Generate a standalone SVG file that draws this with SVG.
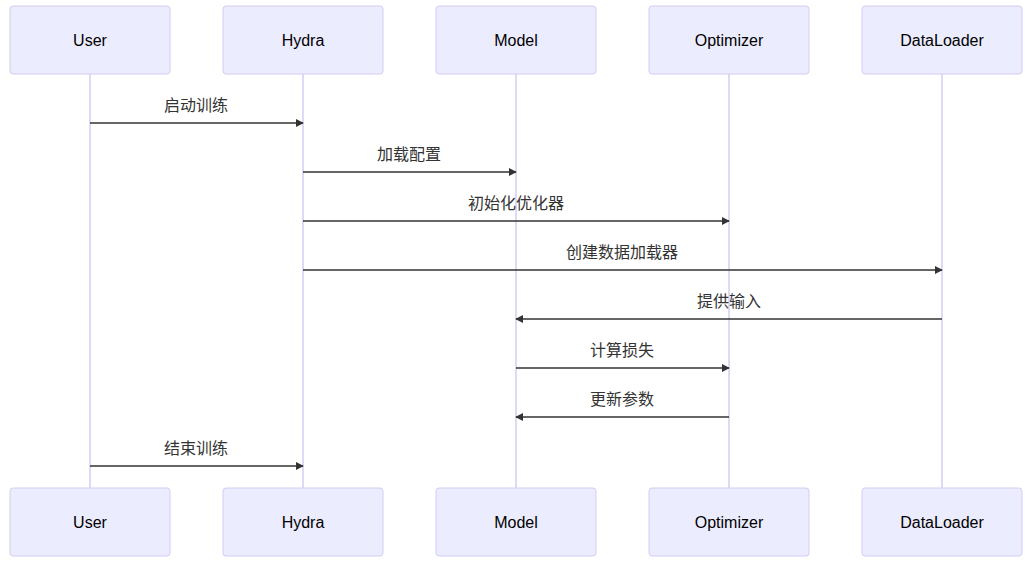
<svg xmlns="http://www.w3.org/2000/svg" width="1026" height="569" viewBox="0 0 1026 569">
<style>
.a{fill:#ECECFF;stroke:#D4CCF2;stroke-width:1}
.at{font-family:"Liberation Sans","Noto Sans CJK SC",sans-serif;font-size:16px;fill:#000;text-anchor:middle;dominant-baseline:central}
.ll{stroke:#D4CCF2;stroke-width:1.5}
.m{stroke:#333;stroke-width:1.5;marker-end:url(#ah)}
.mt{font-family:"Liberation Sans","Noto Sans CJK SC",sans-serif;font-size:16px;fill:#333;text-anchor:middle}
</style>
<defs><marker id="ah" viewBox="0 0 10 10" refX="9" refY="5" markerWidth="8" markerHeight="8" markerUnits="userSpaceOnUse" orient="auto"><path d="M0,0L10,5L0,10z" fill="#333"/></marker></defs>
<rect width="1026" height="569" fill="#fff"/>
<g id="lifelines">
<line class="ll" x1="90" y1="74" x2="90" y2="488"/>
<line class="ll" x1="303" y1="74" x2="303" y2="488"/>
<line class="ll" x1="516" y1="74" x2="516" y2="488"/>
<line class="ll" x1="729" y1="74" x2="729" y2="488"/>
<line class="ll" x1="942" y1="74" x2="942" y2="488"/>
</g>
<g id="User"><rect class="a" x="10" y="6" width="160" height="68" rx="3"/><text class="at" x="90" y="40">User</text><rect class="a" x="10" y="488" width="160" height="68" rx="3"/><text class="at" x="90" y="522">User</text></g>
<g id="Hydra"><rect class="a" x="223" y="6" width="160" height="68" rx="3"/><text class="at" x="303" y="40">Hydra</text><rect class="a" x="223" y="488" width="160" height="68" rx="3"/><text class="at" x="303" y="522">Hydra</text></g>
<g id="Model"><rect class="a" x="436" y="6" width="160" height="68" rx="3"/><text class="at" x="516" y="40">Model</text><rect class="a" x="436" y="488" width="160" height="68" rx="3"/><text class="at" x="516" y="522">Model</text></g>
<g id="Optimizer"><rect class="a" x="649" y="6" width="160" height="68" rx="3"/><text class="at" x="729" y="40">Optimizer</text><rect class="a" x="649" y="488" width="160" height="68" rx="3"/><text class="at" x="729" y="522">Optimizer</text></g>
<g id="DataLoader"><rect class="a" x="862" y="6" width="160" height="68" rx="3"/><text class="at" x="942" y="40">DataLoader</text><rect class="a" x="862" y="488" width="160" height="68" rx="3"/><text class="at" x="942" y="522">DataLoader</text></g>
<g id="connectors">
<line class="m" x1="90" y1="123" x2="303" y2="123"/><text class="mt" x="196" y="111">启动训练</text>
<line class="m" x1="303" y1="172" x2="516" y2="172"/><text class="mt" x="409" y="160">加载配置</text>
<line class="m" x1="303" y1="221" x2="729" y2="221"/><text class="mt" x="516" y="209">初始化优化器</text>
<line class="m" x1="303" y1="270" x2="942" y2="270"/><text class="mt" x="622" y="258">创建数据加载器</text>
<line class="m" x1="942" y1="319" x2="516" y2="319"/><text class="mt" x="729" y="307">提供输入</text>
<line class="m" x1="516" y1="368" x2="729" y2="368"/><text class="mt" x="622" y="356">计算损失</text>
<line class="m" x1="729" y1="417" x2="516" y2="417"/><text class="mt" x="622" y="405">更新参数</text>
<line class="m" x1="90" y1="466" x2="303" y2="466"/><text class="mt" x="196" y="454">结束训练</text>
</g>
</svg>
